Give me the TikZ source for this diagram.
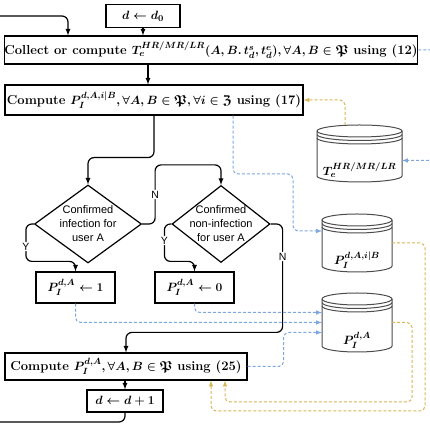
\documentclass[tikz,border=0pt]{standalone}
\usepackage{amssymb, amsmath}
\usepackage{fontspec}
\newfontfamily\arialfont{Liberation Sans}
\usepackage{tikz}
\usetikzlibrary{arrows, shapes.geometric}
\definecolor{blaustrich}{HTML}{7EA6E0}
\definecolor{gelbstrich}{HTML}{D6B656}

\begin{document}
\begin{tikzpicture}[x=1pt, y=1pt,
		>=latex,   %Pfeilspitzen
		kasten/.style={draw, line width=1.2pt, rectangle, inner sep=0pt, font=\fontsize{13}{15}\selectfont\bfseries\boldmath},
		raute/.style={draw, line width=1.2pt, diamond, inner sep=0pt},
		rautentext/.style={align=center, font=\arialfont\fontsize{11}{14}\selectfont},
		marke/.style={font=\arialfont\fontsize{10.5}{12}\selectfont, fill=white, inner sep=1pt},
		pfeil/.style={->, line width=1.2pt, rounded corners=6pt},
		speicher/.style={draw=black!70, line width=1pt, fill=white},
		speichertext/.style={font=\fontsize{13}{15}\selectfont\boldmath, inner sep=0pt},
		blau/.style={->, blaustrich, line width=1pt, dash pattern=on 3pt off 2pt, rounded corners=5pt},
		gelb/.style={->, gelbstrich, line width=1pt, dash pattern=on 3pt off 2pt, rounded corners=5pt}]
		% Bildbereich
		\useasboundingbox (0,0) rectangle (430,430);
		% Kaesten
		\node[kasten, minimum width=74, minimum height=23] (dnull) at (143,414) {$d \leftarrow d_0$};
		\node[kasten, minimum width=412, minimum height=28] (sammeln) at (211,380) {Collect or compute $T_e^{HR/MR/LR}(A, B.\,t_d^s, t_d^e), \forall A, B \in \mathfrak{P}$ using~(12)};
		\node[kasten, minimum width=298, minimum height=30] (pib17) at (154,330) {Compute $P_I^{d,A,i|B}, \forall A, B \in \mathfrak{P}, \forall i \in \mathfrak{Z}$ using~(17)};
		\node[raute, minimum width=107, minimum height=78, label={[rautentext]center:Confirmed\\infection for\\user A}] (inf) at (88,206) {};
		\node[raute, minimum width=98, minimum height=77, label={[rautentext]center:Confirmed\\non-infection\\for user A}] (noninf) at (221,206) {};
		\node[kasten, minimum width=79, minimum height=31] (eins) at (75.5,142.5) {$P_I^{d,A} \leftarrow 1$};
		\node[kasten, minimum width=79, minimum height=31] (null) at (194.5,142.5) {$P_I^{d,A} \leftarrow 0$};
		\node[kasten, minimum width=242, minimum height=27] (pda25) at (126,63.5) {Compute $P_I^{d,A}, \forall A, B \in \mathfrak{P}$ using~(25)};
		\node[kasten, minimum width=76, minimum height=22] (dplus) at (125,29) {$d \leftarrow d+1$};
		% Datenspeicher
		\foreach \n/\x/\y/\w/\h in {te/359.5/276.5/85/57, pib/357/187/70/58, pda/357/107.5/70/59} {
			\node[minimum width=\w, minimum height=\h, inner sep=0pt, outer sep=0pt] (\n) at (\x,\y) {};
			\filldraw[speicher] ([yshift=-6pt]\n.north west) -- ([yshift=6pt]\n.south west) arc (180:360:\w/2 and 6) -- ([yshift=-6pt]\n.north east) arc (0:180:\w/2 and 6) -- cycle;
			\foreach \s in {0, 3.5, 7}
				\draw[speicher, fill=none] ([yshift=-6pt-\s pt]\n.north west) arc (180:360:\w/2 and 6);
		}
		\node[speichertext] (tetext) at ([yshift=12pt]te.south) {$T_e^{HR/MR/LR}$};
		\node[speichertext] (pibtext) at ([yshift=12pt]pib.south) {$P_I^{d,A,i|B}$};
		\node[speichertext] (pdatext) at ([yshift=12pt]pda.south) {$P_I^{d,A}$};
		% Hilfspunkte
		\coordinate (links) at (-10,8);
		\coordinate (schleife) at (68,414);
		\coordinate (knick) at (293,256);
		\coordinate (aussen) at (425,19);
		\coordinate (innen) at (412,28);
		% Ablauf
		\draw[pfeil] (dnull) -- (dnull |- sammeln.north);
		\draw[pfeil] ([xshift=-6pt]pib17.north |- sammeln.south) -- ([xshift=-6pt]pib17.north);
		\draw[pfeil] (pib17.south) -- ++(0,-42) -| (inf.north);
		\draw[pfeil] (inf.east) -- ++(13,0) |- node[marke, pos=0.25] {N} ([yshift=20pt]noninf.north) -- (noninf.north);
		\draw[pfeil] (inf.west) -- ++(-8,0) |- node[marke, pos=0.3] {Y} ([yshift=10pt]eins.north) -- (eins.north);
		\draw[pfeil] (noninf.west) -- ++(-7,0) |- node[marke, pos=0.22] {Y} ([yshift=10pt]null.north) -- (null.north);
		\draw[pfeil] (noninf.east) -- ++(12,0) |- node[marke, pos=0.15] {N} ([yshift=20pt]pda25.north) -- (pda25.north);
		\draw[pfeil] (pda25.south -| dplus.north) -- (dplus.north);
		\draw[pfeil] (dplus.south) |- (links) |- (schleife) -- (schleife |- sammeln.north);
		% Datenfluss blau
		\draw[blau] (sammeln.east) -- ++(25,0) |- ([yshift=-7pt]te.east);
		\draw[blau] ([xshift=79pt]pib17.south) |- (knick) |- ([yshift=12pt]pib.west);
		\draw[blau] (null.south) |- ([yshift=10pt]pda.west);
		\draw[blau] (eins.south) |- (pda.west);
		\draw[blau] (pda25.east) -- ++(36,0) |- ([yshift=-10pt]pda.west);
		% Datenfluss gelb
		\draw[gelb] ([xshift=-14.5pt]te.north) |- (pib17.east);
		\draw[gelb] (pib.east) -| (aussen) -| ([xshift=85pt]pda25.south);
		\draw[gelb] (pda.east) -| (innen) -| ([xshift=99pt]pda25.south);
	\end{tikzpicture}
\end{document}
